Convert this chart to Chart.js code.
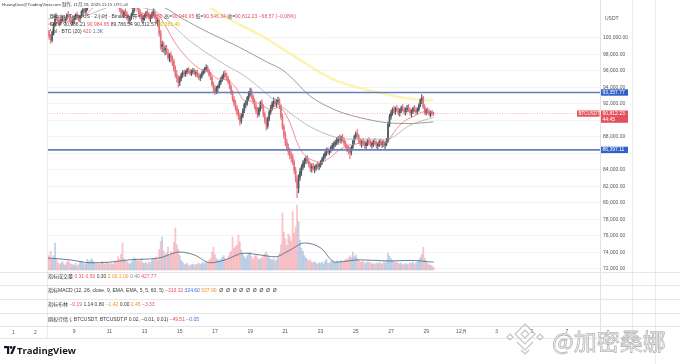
<!DOCTYPE html>
<html><head><meta charset="utf-8">
<script src="https://cdn.jsdelivr.net/npm/chart.js@4.4.1/dist/chart.umd.min.js"></script>
<style>
html,body{margin:0;padding:0;background:#fff;}
#wrap{position:relative;width:680px;height:364px;overflow:hidden;font-family:"Liberation Sans","Noto Sans CJK SC",sans-serif;}
canvas{position:absolute;left:0;top:0;filter:blur(0.25px);}
.t{position:absolute;white-space:nowrap;font-size:5px;line-height:6px;color:#3a3a3a;}
.hl{position:absolute;height:1px;background:#e6e6e6;}
.vl{position:absolute;width:1px;background:#ececec;}
.r{color:#e4505e}.b{color:#3f6fd8}.o{color:#f08c1a}.g{color:#888}.y{color:#d9b600}
</style></head><body>
<div id="wrap">
<canvas id="c" width="680" height="364"></canvas>
<div class="vl" style="left:47px;top:0;height:338px"></div>
<div class="vl" style="left:600px;top:0;height:338px;background:#e2e2e2"></div>
<div class="vl" style="left:632px;top:0;height:338px"></div>
<div class="vl" style="left:655px;top:0;height:364px"></div>
<div class="hl" style="left:0;top:272px;width:680px"></div>
<div class="hl" style="left:0;top:285px;width:680px"></div>
<div class="hl" style="left:0;top:299px;width:680px"></div>
<div class="hl" style="left:0;top:313px;width:680px"></div>
<div class="hl" style="left:0;top:326px;width:680px"></div>
<div class="hl" style="left:0;top:338px;width:656px"></div>

<div class="t" style="left:2px;top:2px;font-size:4.4px">HuangDao@TradingView.com 制作, 11月 29, 2025 11:15 UTC+8</div>
<div class="t" style="left:50px;top:13px">Bitcoin / TetherUS · 2小时 · Binance &nbsp;开=<span class="r">90,880.80</span> 高=<span class="r">90,946.95</span> 低=<span class="r">90,546.34</span> 收=<span class="r">90,812.23 −68.57 (−0.08%)</span></div>
<div class="t" style="left:50px;top:21px">EMA &nbsp;<span>90,986.21</span> <span class="r">90,984.65</span> <span>89,786.54</span> <span>90,312.57</span> <span class="y">92,381.40</span></div>
<div class="t" style="left:50px;top:28px">Vol · BTC (20) <span class="r">420</span> <span class="b">1.3K</span></div>
<div class="t" style="left:605px;top:15px;color:#555">USDT</div>

<div class="t" style="left:48px;top:273px">指标成交量 <span class="r">0.31</span> <span class="r">0.50</span> 0.30 <span class="o">2.00</span> <span class="o">2.00</span> <span class="g">0.40</span> <span class="r">427.77</span></div>
<div class="t" style="left:48px;top:287px">指标MACD (12, 26, close, 9, EMA, EMA, 5, 5, 60, 5) <span class="r">−313.32</span> <span class="b">324.60</span> <span class="o">537.90</span> &nbsp;Ø &nbsp;Ø &nbsp;Ø &nbsp;Ø &nbsp;Ø &nbsp;Ø &nbsp;Ø &nbsp;Ø &nbsp;Ø</div>
<div class="t" style="left:48px;top:301px">指标布林 <span class="r">−0.19</span> 1.14 0.80 <span class="o">−1.42</span> 0.00 <span class="o">2.45</span> <span class="r">−3.33</span></div>
<div class="t" style="left:48px;top:315.5px">期权行情 (, BTCUSDT, BTCUSDT.P 0.02, −0.01, 0.01) <span class="r">−49.51</span> <span class="b">−0.05</span></div>

<div class="t" style="left:12px;top:329px;color:#555">1</div>
<div class="t" style="left:34px;top:329px;color:#555">2</div>

<svg style="position:absolute;left:4px;top:346px" width="12" height="9" viewBox="0 0 12 9"><path d="M0 0H5.2V8H3V2.2H0Z" fill="#131722"/><circle cx="7" cy="1.4" r="1.4" fill="#131722"/><path d="M6.2 8L9.6 0H12L8.6 8Z" fill="#131722"/></svg>
<div class="t" style="left:17px;top:345px;font-size:9.5px;line-height:12px;font-weight:700;color:#131722;font-family:'Open Sans','Liberation Sans',sans-serif">TradingView</div>

<svg style="position:absolute;left:504px;top:322px" width="42" height="36" viewBox="0 0 42 36"><g fill="none" stroke="#c4c4c4" stroke-width="1.2"><path d="M21 2L31 12L21 22L11 12Z"/><path d="M21 8L25 12L21 16L17 12Z"/><path d="M6 12L9 15L6 18L3 15Z"/><path d="M36 12L39 15L36 18L33 15Z"/><path d="M13 20L21 28L29 20"/><path d="M17 28L21 32L25 28"/></g></svg>
<div class="t" style="left:552px;top:326px;font-size:23px;line-height:28px;color:#f7f7f7;-webkit-text-stroke:0.8px #b8b8b8;font-family:'Noto Sans CJK SC',sans-serif">@加密桑娜</div>
</div>
<script>
// ---- data (prices in thousand USDT, 2-hour candles from 11-07 12:00 UTC+8) ----
const opens = [100.9,100.6,100.1,99.7,100.5,101.6,
102.6,102.3,101.9,101.8,102.2,102.4,102.1,102.3,102.7,102.5,102.0,101.9,
102.1,102.4,102.7,102.5,102.3,102.6,103.1,103.4,103.2,103.5,104.1,104.4,
104.9,105.6,106.0,106.3,106.1,105.9,106.0,105.7,105.4,105.7,105.5,105.2,
105.3,105.1,104.8,104.9,104.7,104.4,104.3,103.8,103.4,103.0,102.8,103.1,
102.9,102.4,102.1,102.4,102.8,103.3,103.9,104.2,103.6,103.1,102.6,102.2,
102.5,102.7,103.0,102.8,102.4,102.6,102.9,103.2,102.5,101.9,102.1,100.5,
98.9,99.2,98.5,98.7,98.2,97.6,97.9,97.3,97.1,96.2,95.5,95.1,
94.6,95.1,95.5,95.8,95.6,95.9,96.1,95.9,95.7,95.9,96.0,95.7,
95.8,95.4,95.2,95.3,95.7,96.0,96.2,96.4,96.0,95.5,95.2,94.3,
93.8,93.5,93.9,94.1,94.6,95.0,95.3,95.6,95.4,95.0,94.6,94.0,
93.3,92.6,92.0,91.5,90.9,90.5,89.9,90.5,91.2,91.9,92.1,92.7,
93.2,93.5,92.9,92.3,91.7,91.1,90.7,91.4,92.1,91.6,90.7,89.9,
89.3,90.2,91.0,91.5,92.0,92.3,92.0,92.2,92.4,91.7,90.4,89.2,
88.2,87.3,86.7,86.2,85.7,85.5,84.9,83.9,82.8,81.8,83.1,83.8,
84.3,84.8,85.1,85.3,85.0,84.6,84.2,84.4,84.1,84.3,84.5,84.4,
84.6,84.9,85.3,85.6,86.0,86.3,86.1,86.4,86.7,86.9,87.1,87.3,
87.5,87.7,87.6,87.9,87.6,87.2,86.8,86.6,86.3,86.1,86.7,87.4,
88.0,88.4,88.1,87.5,87.2,87.4,87.1,86.9,87.2,87.5,87.3,87.0,
87.2,87.4,87.2,86.9,87.1,87.4,87.1,87.3,87.0,87.2,87.5,89.5,
90.4,90.9,91.3,91.1,91.4,91.2,90.9,91.2,91.5,91.3,91.0,91.3,
91.5,91.2,90.9,91.1,91.4,91.2,91.0,91.3,91.8,92.4,92.7,91.6,
90.9,91.2,91.0,90.7,90.9,90.8808];
const highs = [101.3,100.9,100.4,100.7,101.8,102.9,
102.9,102.5,102.2,102.4,102.6,102.7,102.5,102.9,103.2,102.8,102.4,102.3,
102.6,102.9,103.1,102.8,102.7,103.3,103.6,103.9,103.7,104.3,104.6,105.1,
105.8,106.2,106.5,106.6,106.4,106.3,106.3,106.0,105.9,106.1,105.8,105.6,
105.7,105.4,105.2,105.3,105.0,104.8,104.6,104.2,103.7,103.4,103.3,103.5,
103.2,102.8,102.6,103.0,103.6,104.2,104.6,104.5,103.9,103.4,102.9,102.7,
102.9,103.2,103.4,103.1,102.8,103.1,103.5,103.4,102.8,102.4,102.3,100.9,
99.6,99.5,99.0,99.1,98.6,98.1,98.3,97.8,97.4,96.6,96.0,95.4,
95.3,95.7,96.0,96.1,96.0,96.3,96.4,96.2,96.1,96.3,96.2,96.0,
96.1,95.7,95.6,95.9,96.2,96.4,96.7,96.6,96.2,95.8,95.4,94.6,
94.2,94.1,94.3,94.8,95.2,95.5,95.9,96.0,95.7,95.3,94.9,94.3,
93.6,92.9,92.4,91.8,91.3,90.9,90.8,91.4,92.1,92.4,92.9,93.5,
93.9,93.8,93.1,92.6,92.0,91.5,91.6,92.3,92.5,91.9,91.0,90.3,
90.4,91.2,91.8,92.3,92.7,92.6,92.5,92.8,92.6,91.9,90.7,89.5,
88.6,87.7,87.1,86.6,86.2,85.9,85.2,84.3,83.3,83.4,84.2,84.6,
85.1,85.4,85.6,85.7,85.3,84.9,84.7,84.8,84.5,84.7,84.9,84.8,
85.1,85.5,85.9,86.2,86.6,86.7,86.5,86.9,87.2,87.4,87.6,87.9,
88.0,88.2,88.1,88.3,87.9,87.5,87.1,86.9,86.7,86.9,87.6,88.2,
88.6,88.9,88.3,87.8,87.6,87.8,87.5,87.4,87.7,87.9,87.6,87.4,
87.6,87.8,87.5,87.3,87.6,87.7,87.5,87.6,87.4,87.8,89.8,90.7,
91.2,91.5,91.7,91.6,91.8,91.5,91.4,91.7,91.9,91.6,91.5,91.8,
91.9,91.5,91.3,91.6,91.8,91.6,91.5,92.0,92.6,93.1,92.9,91.9,
91.4,91.5,91.3,91.1,91.2,90.94695];
const lows = [100.3,99.8,99.3,99.5,100.3,101.4,
102.1,101.7,101.4,101.6,101.9,102.0,101.8,102.1,102.4,101.9,101.5,101.6,
101.8,102.2,102.3,102.0,101.9,102.4,102.8,103.0,102.9,103.3,103.7,104.2,
104.7,105.3,105.7,105.8,105.6,105.5,105.4,105.1,105.2,105.3,104.9,104.8,
104.9,104.6,104.4,104.5,104.2,104.0,103.6,103.2,102.8,102.5,102.4,102.7,
102.2,101.8,101.7,102.2,102.6,103.1,103.6,103.4,102.8,102.3,101.9,101.8,
102.1,102.4,102.6,102.2,101.9,102.3,102.6,102.3,101.7,101.4,100.2,98.6,
98.3,98.2,97.9,98.0,97.3,97.1,97.0,96.6,95.9,95.2,94.6,94.0,
94.2,94.8,95.2,95.3,95.3,95.6,95.7,95.5,95.4,95.6,95.5,95.3,
95.2,94.9,94.8,95.1,95.5,95.7,95.9,95.8,95.3,94.9,94.1,93.4,
93.1,93.2,93.3,93.9,94.3,94.7,95.0,95.2,94.8,94.4,93.8,93.1,
92.3,91.7,91.2,90.6,90.1,89.4,89.6,90.3,90.9,91.5,91.8,92.4,
92.9,92.6,92.0,91.4,90.8,90.3,90.5,91.1,91.4,90.4,89.6,88.8,
89.0,89.9,90.7,91.2,91.6,91.7,91.6,91.9,91.4,90.1,88.9,87.8,
86.9,86.3,85.8,85.3,84.9,84.6,83.5,82.5,80.6,81.2,82.7,83.3,
84.0,84.3,84.7,84.8,84.3,83.8,83.7,83.9,83.6,83.9,84.1,84.0,
84.3,84.6,85.0,85.3,85.7,85.9,85.8,86.1,86.3,86.5,86.8,87.0,
87.1,87.3,87.2,87.4,86.9,86.6,86.2,85.9,85.3,85.8,86.4,87.1,
87.7,87.8,87.2,86.9,86.7,86.9,86.6,86.5,86.9,87.0,86.8,86.6,
86.8,87.0,86.6,86.4,86.8,86.9,86.7,86.8,86.5,86.9,87.3,89.2,
90.1,90.6,90.8,90.7,91.0,90.6,90.5,90.9,91.1,90.7,90.6,91.0,
91.0,90.6,90.4,90.8,91.0,90.7,90.7,91.1,91.6,92.0,91.4,90.7,
90.6,90.8,90.5,90.4,90.6,90.54634];
const closes = [100.6,100.1,99.7,100.5,101.6,102.6,
102.3,101.9,101.8,102.2,102.4,102.1,102.3,102.7,102.5,102.0,101.9,102.1,
102.4,102.7,102.5,102.3,102.6,103.1,103.4,103.2,103.5,104.1,104.4,104.9,
105.6,106.0,106.3,106.1,105.9,106.0,105.7,105.4,105.7,105.5,105.2,105.3,
105.1,104.8,104.9,104.7,104.4,104.3,103.8,103.4,103.0,102.8,103.1,102.9,
102.4,102.1,102.4,102.8,103.3,103.9,104.2,103.6,103.1,102.6,102.2,102.5,
102.7,103.0,102.8,102.4,102.6,102.9,103.2,102.5,101.9,102.1,100.5,98.9,
99.2,98.5,98.7,98.2,97.6,97.9,97.3,97.1,96.2,95.5,95.1,94.6,
95.1,95.5,95.8,95.6,95.9,96.1,95.9,95.7,95.9,96.0,95.7,95.8,
95.4,95.2,95.3,95.7,96.0,96.2,96.4,96.0,95.5,95.2,94.3,93.8,
93.5,93.9,94.1,94.6,95.0,95.3,95.6,95.4,95.0,94.6,94.0,93.3,
92.6,92.0,91.5,90.9,90.5,89.9,90.5,91.2,91.9,92.1,92.7,93.2,
93.5,92.9,92.3,91.7,91.1,90.7,91.4,92.1,91.6,90.7,89.9,89.3,
90.2,91.0,91.5,92.0,92.3,92.0,92.2,92.4,91.7,90.4,89.2,88.2,
87.3,86.7,86.2,85.7,85.5,84.9,83.9,82.8,81.8,83.1,83.8,84.3,
84.8,85.1,85.3,85.0,84.6,84.2,84.4,84.1,84.3,84.5,84.4,84.6,
84.9,85.3,85.6,86.0,86.3,86.1,86.4,86.7,86.9,87.1,87.3,87.5,
87.7,87.6,87.9,87.6,87.2,86.8,86.6,86.3,86.1,86.7,87.4,88.0,
88.4,88.1,87.5,87.2,87.4,87.1,86.9,87.2,87.5,87.3,87.0,87.2,
87.4,87.2,86.9,87.1,87.4,87.1,87.3,87.0,87.2,87.5,89.5,90.4,
90.9,91.3,91.1,91.4,91.2,90.9,91.2,91.5,91.3,91.0,91.3,91.5,
91.2,90.9,91.1,91.4,91.2,91.0,91.3,91.8,92.4,92.7,91.6,90.9,
91.2,91.0,90.7,90.9,90.8808,90.81223];
// volume in BTC per 2h candle
const volumes = [2600,2200,3100,1900,2400,4500,
1800,1200,900,1100,1400,1000,800,1300,1600,1200,1000,900,
800,1100,700,900,1300,1500,1200,900,1100,1800,1400,1600,
1900,1500,1200,1000,1300,900,1100,1400,1200,1000,1300,1100,
1000,1200,900,1100,1400,1300,2200,1800,2600,4500,1900,1500,
1400,1200,1000,1300,1600,2100,1800,1500,1700,1400,1900,1200,
1100,1300,1000,1400,1200,1600,2000,1800,2200,1600,3400,4800,
5500,3200,2600,2900,3800,2400,3100,2800,4600,7000,4200,3500,
2400,1600,1300,1000,900,1100,800,700,900,1000,800,900,
1000,1200,900,1100,1300,1000,1400,1200,1600,1900,3000,3800,
2600,1900,1700,1500,1800,2100,2400,1900,1700,2200,2800,3100,
5500,3600,3900,4100,5800,4700,3300,2600,2200,1900,2400,2800,
3000,2200,1800,2300,2600,2100,1700,1900,2000,2400,2700,3000,
2500,2000,1800,1600,1900,1500,1700,2200,2800,4200,9500,6300,
5200,4100,6000,5600,4800,9700,6200,7200,10800,8100,4900,3600,
3100,2400,2000,1800,1500,1700,1300,1200,1400,1100,1000,1200,
1100,1300,1000,1500,1800,1200,1100,1400,1600,1300,1200,1500,
1400,1200,1600,1300,1500,1800,1700,2000,2400,2100,3000,2200,
2500,2000,1600,1400,1300,1500,1200,1100,1400,1300,1200,1000,
1100,900,1200,1000,1300,1100,1000,1400,1200,1600,2800,2300,
1900,1600,1400,1200,1300,1100,1000,1200,900,1000,1100,900,
1000,1200,1100,1300,1000,1200,1400,1700,2100,2600,3800,2000,
1500,1100,900,800,700,420];
// moving-average lines: [candle index, value]
const emaFast   = [[0,101.6],[6,101.9],[12,102.0],[18,102.1],[24,102.6],[30,103.5],[36,104.8],[42,105.3],[48,104.8],[54,103.9],[60,103.3],[66,102.9],[72,102.8],[76,102.6],[79,101.8],[82,100.9],[86,99.6],[90,98.6],[97,97.2],[104,96.2],[110,95.9],[116,95.0],[122,94.9],[128,94.0],[134,92.4],[140,92.3],[146,91.8],[152,91.3],[158,91.6],[162,90.8],[166,89.3],[170,87.3],[174,86.0],[180,85.2],[186,84.9],[192,85.4],[198,86.3],[204,86.9],[210,87.1],[216,87.4],[222,87.3],[228,87.2],[232,87.4],[234,88.0],[238,89.0],[244,90.0],[250,90.5],[256,91.0],[263,90.98]];
const emaMid    = [[0,102.3],[24,102.6],[48,103.9],[66,103.6],[76,102.9],[97,99.6],[122,96.6],[134,95.4],[160,91.6],[180,89.1],[206,87.7],[231,87.7],[247,89.4],[263,90.35]];
const emaSlow   = [[0,104.0],[40,104.3],[70,104.2],[80,103.6],[92,102.3],[110,100.6],[130,98.9],[150,97.0],[160,96.1],[167,95.0],[179,92.9],[194,91.4],[201,90.9],[213,90.3],[231,89.7],[247,89.6],[263,89.79]];
const ema200    = [[0,105.6],[60,105.4],[100,104.5],[111,103.6],[122,102.4],[145,100.3],[165,98.1],[194,95.0],[213,93.9],[229,93.2],[247,92.6],[263,92.4]];
const volMa     = [[0,2000],[15,1700],[29,1200],[42,1300],[56,1700],[76,2000],[90,3000],[100,2500],[111,1200],[121,1700],[134,2800],[145,2500],[155,2200],[165,3300],[175,4500],[186,3700],[196,1300],[213,1700],[233,1500],[247,1600],[263,1300]];
const levels = [93.35777, 86.39711];
const lastPrice = 90.81223;
const priceTicks = [72,74,76,78,80,82,84,86,88,90,92,94,96,98,100];
const hiddenPriceLabels = [86, 90];
const tickDates = ['11-09','11-11','11-13','11-15','11-17','11-19','11-21','11-23','11-25','11-27','11-29','12-01','12-03','12-05','12-07'];
const timeTickLabels = ['9','11','13','15','17','19','21','23','25','27','29','12月','3','5','7'];
const totalSlots = 377;

// ---- build categories (2h slots incl. future space) ----
const start = Date.UTC(2025,10,7,12);
const slots = [];
for (let k=0;k<totalSlots;k++){
  const d = new Date(start + k*7200000);
  const p = n => String(n).padStart(2,'0');
  slots.push(p(d.getUTCMonth()+1)+'-'+p(d.getUTCDate())+' '+p(d.getUTCHours())+':00');
}
const up = closes.map((c,i)=> c >= opens[i]);
const UPC = '#4d5963', DNC = '#e9717c';
const wick = lows.map((l,i)=>[l, highs[i]]);
const body = opens.map((o,i)=>[o, closes[i]]);
const pts = arr => arr.map(([i,v])=>({x:slots[i], y:v}));
const fmt = v => (v*1000).toLocaleString('en-US',{minimumFractionDigits:2,maximumFractionDigits:2});

const levelsPlugin = {
  id:'levels',
  afterDatasetsDraw(chart){
    const {ctx, chartArea:a, scales:{y}} = chart;
    ctx.save();
    const yc = y.getPixelForValue(lastPrice);
    ctx.strokeStyle='rgba(229,80,93,0.55)'; ctx.lineWidth=0.8; ctx.setLineDash([1,1.5]);
    ctx.beginPath(); ctx.moveTo(a.left,yc); ctx.lineTo(a.right,yc); ctx.stroke();
    ctx.setLineDash([]);
    ctx.strokeStyle='#6581bb'; ctx.lineWidth=1.7;
    levels.forEach(v=>{ const yy=y.getPixelForValue(v); ctx.beginPath(); ctx.moveTo(a.left,yy); ctx.lineTo(a.right,yy); ctx.stroke(); });
    ctx.restore();
  },
  afterDraw(chart){
    const {ctx, chartArea:a, scales:{y}} = chart;
    ctx.save();
    ctx.font='5px "Liberation Sans", sans-serif'; ctx.textBaseline='middle'; ctx.textAlign='left';
    levels.forEach(v=>{
      const yy=y.getPixelForValue(v);
      ctx.fillStyle='#3360c8'; ctx.fillRect(a.right, yy-3.2, 28, 6.4);
      ctx.fillStyle='#fff'; ctx.fillText(fmt(v), a.right+2.5, yy+0.2);
    });
    const yc=y.getPixelForValue(lastPrice);
    ctx.fillStyle='#e5505d'; ctx.fillRect(a.right, yc-3, 28, 12.3);
    ctx.fillStyle='#fff'; ctx.fillText(fmt(lastPrice), a.right+2.5, yc+0.2);
    ctx.fillText('44:45', a.right+2.5, yc+6);
    ctx.fillStyle='#e5505d'; ctx.fillRect(a.right-23, yc-3, 22.5, 6.2);
    ctx.fillStyle='#fff'; ctx.font='4.5px "Liberation Sans", sans-serif'; ctx.fillText('BTCUSDT', a.right-21.5, yc+0.2);
    ctx.restore();
  }
};

new Chart(document.getElementById('c'), {
  data:{
    labels: slots,
    datasets:[
      {type:'line', data:pts(emaFast), borderColor:'rgba(236,110,122,0.85)', borderWidth:0.9, pointRadius:0, cubicInterpolationMode:'monotone', order:1},
      {type:'line', data:pts(emaMid), borderColor:'#adadad', borderWidth:0.8, pointRadius:0, cubicInterpolationMode:'monotone', order:2},
      {type:'line', data:pts(emaSlow), borderColor:'#828282', borderWidth:0.8, pointRadius:0, cubicInterpolationMode:'monotone', order:2},
      {type:'bar', data:body, grouped:false, barThickness:1.0, minBarLength:0.7, backgroundColor:ctx=>up[ctx.dataIndex]?UPC:DNC, order:3},
      {type:'bar', data:wick, grouped:false, barThickness:0.5, backgroundColor:ctx=>up[ctx.dataIndex]?UPC:DNC, order:4},
      {type:'line', data:pts(ema200), borderColor:'rgba(250,240,150,0.7)', borderWidth:2.6, pointRadius:0, cubicInterpolationMode:'monotone', order:5},
      {type:'line', data:pts(volMa), yAxisID:'yv', borderColor:'#5b6f8c', borderWidth:0.9, pointRadius:0, cubicInterpolationMode:'monotone', order:6},
      {type:'bar', data:volumes, yAxisID:'yv', grouped:false, barThickness:1.1, backgroundColor:ctx=>up[ctx.dataIndex]?'rgba(130,168,210,0.5)':'rgba(242,140,150,0.5)', order:7}
    ]
  },
  options:{
    responsive:false, animation:false, events:[],
    layout:{padding:{left:47,top:8,right:0,bottom:0}},
    plugins:{legend:{display:false}, tooltip:{enabled:false}},
    scales:{
      x:{type:'category', offset:true, grid:{display:false, drawTicks:false}, border:{display:false},
         afterFit:s=>{s.height=38;},
         ticks:{autoSkip:false, maxRotation:0, minRotation:0, padding:3, color:'#555', font:{size:5, family:'"Liberation Sans", sans-serif'},
           callback:function(v){ const s=this.getLabelForValue(v); if(!s.endsWith(' 00:00')) return null; const k=tickDates.indexOf(s.slice(0,5)); return k<0?null:timeTickLabels[k]; }}},
      y:{position:'right', min:65.0545, max:103.6, border:{display:false},
         grid:{color:'#f3f3f3', drawTicks:false},
         afterFit:s=>{s.width=80;},
         afterBuildTicks:s=>{s.ticks=priceTicks.map(v=>({value:v}));},
         ticks:{padding:3, color:'#555', font:{size:5, family:'"Liberation Sans", sans-serif'},
           callback:v=> hiddenPriceLabels.includes(v)?'':fmt(v)}},
      yv:{display:false, min:-9333.3, max:43666.7}
    }
  },
  plugins:[levelsPlugin]
});
</script>
</body></html>
